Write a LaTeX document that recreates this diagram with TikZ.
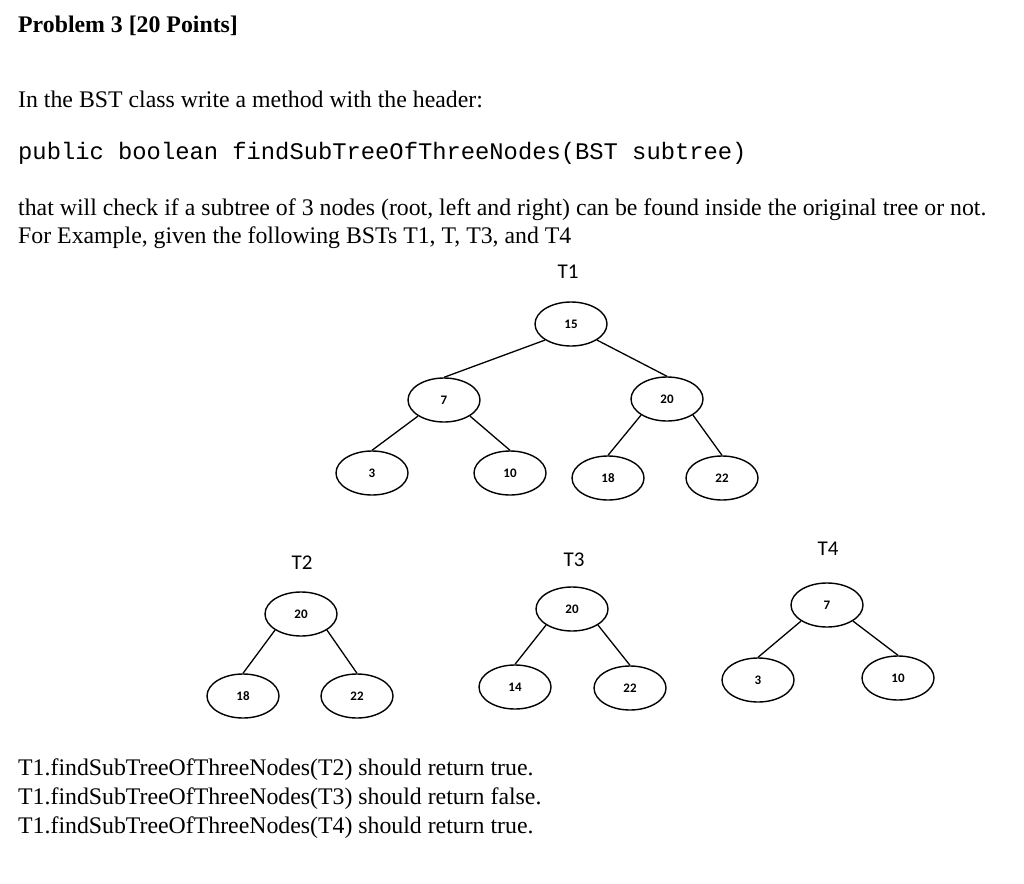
\documentclass[tikz,border=0pt]{standalone}
\usepackage{fontspec}
\setmainfont{Liberation Serif}
\newfontfamily\codefont{Liberation Mono}
\newfontfamily\labfont{Carlito}
\usetikzlibrary{shapes.geometric}
\begin{document}
\begin{tikzpicture}[x=1pt,y=-1pt,
  txt/.style={anchor=base west,inner sep=0,font=\fontsize{23.8}{28}\selectfont},
  bn/.style={ellipse,draw,line width=1.4pt,minimum width=72pt,minimum height=44pt,inner sep=0,font=\labfont\bfseries\fontsize{13}{15}\selectfont},
  tl/.style={font=\labfont\fontsize{21}{24}\selectfont,inner sep=0},
  ed/.style={line width=1.3pt}]
\useasboundingbox (0,0) rectangle (1024,883);
\node[txt,font=\bfseries\fontsize{23.8}{28}\selectfont] (title) at (18,33) {Problem 3 [20 Points]};
\node[txt] (l1) at (18,107) {In the BST class write a method with the header:};
\node[txt,font=\codefont\fontsize{23.8}{28}\selectfont] (code) at (18,159) {public boolean findSubTreeOfThreeNodes(BST subtree)};
\node[txt] (l2) at (18,215) {that will check if a subtree of 3 nodes (root, left and right) can be found inside the original tree or not.};
\node[txt] (l3) at (18,243) {For Example, given the following BSTs T1, T, T3, and T4};
\node[txt] (r1) at (18,775) {T1.findSubTreeOfThreeNodes(T2) should return true.};
\node[txt] (r2) at (18,804) {T1.findSubTreeOfThreeNodes(T3) should return false.};
\node[txt] (r3) at (18,833) {T1.findSubTreeOfThreeNodes(T4) should return true.};
% T1
\node[tl] (t1) at (568,272) {T1};
\node[bn] (a) at (571,324) {15};
\node[bn] (b) at (444,400) {7};
\node[bn] (c) at (667,399) {20};
\node[bn] (d) at (372,473) {3};
\node[bn] (e) at (510,473) {10};
\node[bn] (f) at (608,478) {18};
\node[bn] (g) at (722,478) {22};
\draw[ed] (a.south west)--(b.north); \draw[ed] (a.south east)--(c.north);
\draw[ed] (b.south west)--(d.north); \draw[ed] (b.south east)--(e.north);
\draw[ed] (c.south west)--(f.north); \draw[ed] (c.south east)--(g.north);
% T2
\node[tl] (t2) at (302,563) {T2};
\node[bn] (h) at (301,614) {20};
\node[bn] (i) at (243,696) {18};
\node[bn] (j) at (357,696) {22};
\draw[ed] (h.south west)--(i.north); \draw[ed] (h.south east)--(j.north);
% T3
\node[tl] (t3) at (574,560) {T3};
\node[bn] (k) at (572,609) {20};
\node[bn] (l) at (515,687) {14};
\node[bn] (m) at (630,688) {22};
\draw[ed] (k.south west)--(l.north); \draw[ed] (k.south east)--(m.north);
% T4
\node[tl] (t4) at (828,549) {T4};
\node[bn] (n) at (827,605) {7};
\node[bn] (o) at (758,680) {3};
\node[bn] (p) at (898,678) {10};
\draw[ed] (n.south west)--(o.north); \draw[ed] (n.south east)--(p.north);
\end{tikzpicture}
\end{document}
